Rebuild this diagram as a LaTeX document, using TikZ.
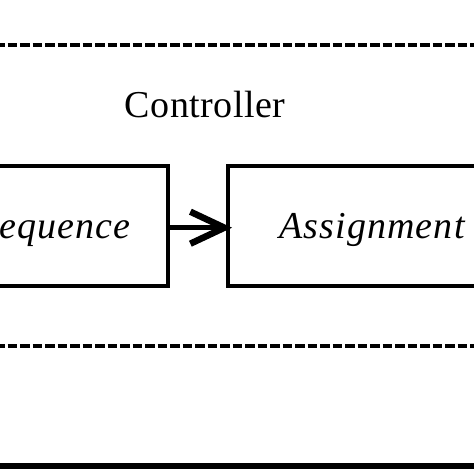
\documentclass[tikz,border=0pt]{standalone}
\usepackage{fontspec}
\setmainfont{Liberation Serif}
\newfontfamily\ctrlfont[LetterSpace=1.2]{Liberation Serif}
\newfontfamily\boxfont[LetterSpace=3]{Liberation Serif}
\usetikzlibrary{arrows.meta}
\tikzset{
  blockbox/.style={draw=black, line width=4pt, rectangle, outer sep=0pt, inner sep=0pt},
  dashline/.style={line width=3.4pt, dash pattern=on 9.5pt off 3pt},
  boxtext/.style={inner sep=0pt, font=\boxfont\itshape\fontsize{38}{40}\selectfont},
  flowarrow/.style={line width=5.5pt, -{Straight Barb[length=34pt,width=32pt,line width=6.5pt]}, shorten >=-4pt}
}
\begin{document}
\begin{tikzpicture}[x=1pt,y=-1pt]
\useasboundingbox (0,0) rectangle (474,474);
\clip (0,0) rectangle (474,474);
\fill[white] (0,0) rectangle (474,474);
% dashed boundaries
\coordinate (d1a) at (-5,45);
\coordinate (d1b) at (480,45);
\coordinate (d2a) at (-5,346);
\coordinate (d2b) at (480,346);
\coordinate (s1a) at (-5,466);
\coordinate (s1b) at (480,466);
\draw[dashline] (d1a) -- (d1b);
\draw[dashline] (d2a) -- (d2b);
\draw[line width=6.3pt] (s1a) -- (s1b);
% title
\node[inner sep=0pt, anchor=base, font=\ctrlfont\fontsize{38}{40}\selectfont] (title) at (205,117.7) {Controller};
% boxes
\node[blockbox, minimum width=190pt, minimum height=120.5pt] (seq) at (73,226) {};
\node[blockbox, minimum width=262pt, minimum height=120.5pt] (asg) at (359,226) {};
\node[boxtext, anchor=base east] (seqtext) at (131,238.3) {Sequence};
\node[boxtext, anchor=base west] (asgtext) at (279,238.3) {Assignment};
% arrow
\draw[flowarrow] ([yshift=-1.7pt]seq.east) -- ([yshift=-1.7pt]asg.west);
\end{tikzpicture}
\end{document}
